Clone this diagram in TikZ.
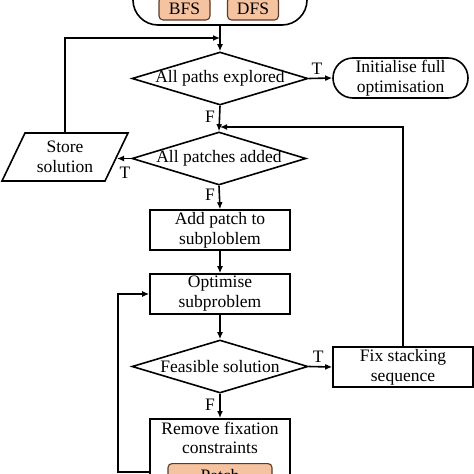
\documentclass[tikz,border=0pt]{standalone}
\usepackage{fontspec}
\setmainfont{Liberation Serif}
\usetikzlibrary{shapes.geometric,arrows.meta}
\definecolor{patchfill}{HTML}{F5C3A0}
\definecolor{patchdraw}{HTML}{5A3A28}
\begin{document}
\begin{tikzpicture}[x=1pt,y=-1pt,
  every node/.style={font=\fontsize{17.5}{20}\selectfont},
  line/.style={line width=1.6pt},
  arr/.style={line width=1.6pt,-{Latex[length=7pt,width=6pt]}},
  procbox/.style={draw,line width=1.6pt,minimum width=140pt,minimum height=40pt,align=center,inner sep=1pt},
  decide/.style={draw,line width=1.6pt,diamond,inner sep=0pt,minimum width=176pt,minimum height=53pt},
  term/.style={draw,line width=1.6pt,rounded corners=20pt,minimum width=135pt,minimum height=40pt,align=center,inner sep=1pt},
  orbox/.style={draw=patchdraw,fill=patchfill,line width=1.1pt,rounded corners=4pt,minimum height=23pt,inner sep=1pt},
  lab/.style={inner sep=1pt}
]
\useasboundingbox (0,0) rectangle (474,474);
\clip (0,0) rectangle (474,474);

% top start box
\node[draw,line width=1.6pt,rounded corners=25pt,minimum width=174pt,minimum height=62pt] (start) at (220,-6) {};
\node[orbox,minimum width=51pt] (bfs) at (184.5,8.5) {BFS};
\node[orbox,minimum width=51pt] (dfs) at (253,8.5) {DFS};

% decisions
\node[decide] (d1) at (220,78.5) {\makebox[0pt]{All paths explored}};
\node[decide,minimum width=174pt] (d2) at (219,158.5) {\makebox[0pt]{All patches added}};
\node[decide] (d3) at (220,366.5) {\makebox[0pt]{Feasible solution}};

% terminal
\node[term] (init) at (400.5,78) {Initialise full\\optimisation};

% processes
\node[procbox] (add) at (220,230) {Add patch to\\subploblem};
\node[procbox] (opt) at (220,294) {Optimise\\subproblem};
\node[procbox] (fix) at (403,367) {Fix stacking\\sequence};
\node[procbox,minimum height=90pt,anchor=north,
  label={[anchor=north,align=center,inner sep=3pt,yshift=-1pt,font=\fontsize{17.5}{19}\selectfont]north:Remove fixation\\constraints}] (remove) at (220,418) {};
\node[orbox,minimum width=104pt,anchor=north] (patch) at (220,463) {Patch};

% store solution (parallelogram)
\node (store) at (65,157) [align=center,inner sep=0pt] {Store\\solution};
\draw[line,line join=miter] (25,133) -- (128,133) -- (105,181) -- (2,181) -- cycle;
\coordinate (storeT) at (65,133);
\coordinate (storeR) at (117,158.5);

% junction coordinates
\coordinate (j1) at (220,38);
\coordinate (j2) at (220,127);
\coordinate (j3) at (150,472);

% connectors
\draw[arr] (start.south) -- (d1.north);
\draw[arr] (storeT) |- (j1);
\draw[arr] (d1.east) -- node[lab,above,pos=0.35,yshift=2pt]{T} (init.west);
\draw[arr] (d1.south) -- (d2.north);
\node[lab] at (210,117) {F};
\draw[arr] (fix.north) |- (j2);
\draw[arr] (d2.west) -- (storeR);
\node[lab] at (125,173) {T};
\draw[arr] (d2.south) -- (add.north);
\node[lab] at (210,195) {F};
\draw[arr] (add.south) -- (opt.north);
\draw[arr] (opt.south) -- (d3.north);
\draw[arr] (d3.east) -- node[lab,above,pos=0.4,yshift=2pt]{T} (fix.west);
\draw[arr] (d3.south) -- (remove.north);
\node[lab] at (210,405) {F};
\draw[arr] (j3) -- (118,472) |- (opt.west);
\end{tikzpicture}
\end{document}
